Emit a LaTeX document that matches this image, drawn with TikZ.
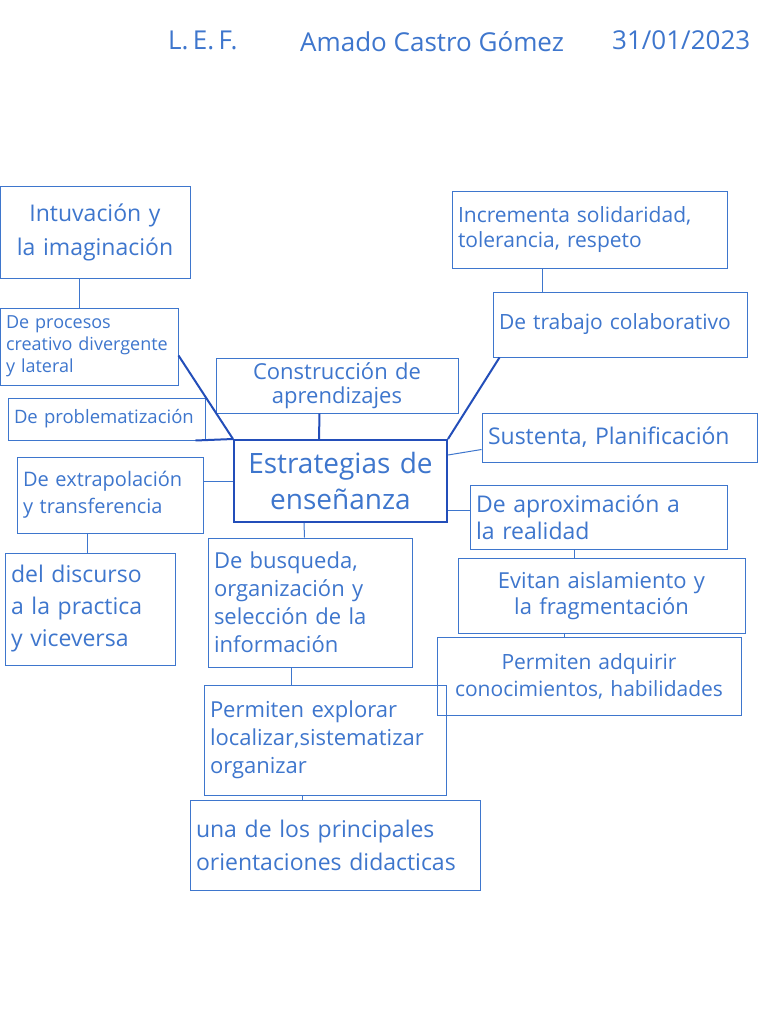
\documentclass[tikz,border=0pt]{standalone}
\usepackage{fontspec}
\setmainfont{Open Sans}
\definecolor{pen}{RGB}{62,118,205}
\definecolor{darkpen}{RGB}{35,78,185}
\tikzset{
  box/.style={draw=pen, line width=1pt, text=pen, rectangle, align=left,
    inner xsep=5pt, inner ysep=3pt, font=\fontsize{16}{20}\selectfont,
    execute at begin node={\hyphenpenalty=10000}},
  conn/.style={draw=pen, line width=1pt},
  thick conn/.style={draw=darkpen, line width=2pt},
  title/.style={text=pen, font=\fontsize{26}{30}\selectfont, inner sep=0pt}
}
\newcommand{\bx}[7][]{%
  \node[box, #1, minimum width={#4-#2}, minimum height={#5-#3}, text width={#4-#2-12}]
    (#6) at ({(#2+#4)/2},{(#3+#5)/2}) {#7};}
\begin{document}
\begin{tikzpicture}[x=1pt,y=-1pt]
\fill[white] (0,0) rectangle (768,1024);
\useasboundingbox (0,0) rectangle (768,1024);

% title
\node[title, anchor=west] (lef) at (168,40) {L.\,E.\,F.};
\node[title, anchor=west] (name) at (300,42) {Amado Castro Gómez};
\node[title, anchor=west] (date) at (612,40) {31/01/2023};

% left column
\bx[font=\fontsize{23}{34}\selectfont, align=center]{0}{187}{190}{278}{intu}{Intuvación y\\la imaginación}
\bx[font=\fontsize{18}{22}\selectfont, inner xsep=3pt]{0}{308}{178}{385}{proc}{De procesos\\creativo divergente\\y lateral}
\bx[font=\fontsize{18.5}{22}\selectfont]{8}{398}{205}{440}{prob}{De problematización}
\bx[font=\fontsize{20}{27}\selectfont]{17}{457}{203}{533}{extr}{De extrapolación\\y transferencia}
\bx[font=\fontsize{23}{32}\selectfont]{5}{553}{175}{665}{disc}{del discurso\\a la practica\\y viceversa}

% centre column
\bx[font=\fontsize{22}{24}\selectfont, align=center]{216}{358}{458}{413}{cons}{Construcción de\\aprendizajes}
\bx[draw=darkpen, line width=2pt, font=\fontsize{28}{36}\selectfont, align=center]{234}{440}{447}{522}{estr}{Estrategias de\\enseñanza}
\bx[font=\fontsize{22}{28}\selectfont]{208}{538}{412}{667}{busq}{De busqueda,\\organización y\\selección de la\\información}
\bx[font=\fontsize{22}{28}\selectfont]{204}{685}{446}{795}{expl}{Permiten explorar\\localizar,sistematizar\\organizar}
\bx[font=\fontsize{23}{33}\selectfont]{190}{800}{480}{890}{orie}{una de los principales\\orientaciones didacticas}

% right column
\bx[font=\fontsize{21}{25}\selectfont]{452}{192}{727}{268}{incr}{Incrementa solidaridad,\\tolerancia, respeto}
\bx[font=\fontsize{21}{26}\selectfont]{493}{292}{747}{357}{trab}{De trabajo colaborativo}
\bx[font=\fontsize{23}{26}\selectfont]{482}{413}{757}{462}{sust}{Sustenta, Planificación}
\bx[font=\fontsize{23}{27}\selectfont]{470}{485}{727}{549}{apro}{De aproximación a\\la realidad}
\bx[font=\fontsize{22}{26}\selectfont, align=center]{458}{558}{745}{633}{evit}{Evitan aislamiento y\\la fragmentación}
\bx[font=\fontsize{21}{27}\selectfont, align=center]{437}{637}{741}{715}{adqu}{Permiten adquirir\\conocimientos, habilidades}

% connectors
\draw[conn] ([xshift=80pt]intu.south west) -- ([xshift=80pt]proc.north west);
\draw[thick conn] ([yshift=-9pt]proc.east) -- (estr.north west);
\draw[thick conn] ([xshift=-10pt]prob.south east) -- (estr.north west);
\draw[conn] (estr.west) -- (estr.west -| extr.east);
\draw[conn] ([xshift=71pt]extr.south west) -- ([xshift=83pt]disc.north west);
\draw[thick conn] ([xshift=104pt]cons.south west) -- ([xshift=86pt]estr.north west);
\draw[thick conn] (estr.north east) -- ([xshift=7pt]trab.south west);
\draw[conn] ([yshift=26pt]estr.east) -- ([yshift=-12pt]sust.west);
\draw[conn] ([yshift=-29pt]estr.east) -- ([yshift=7pt]apro.west);
\draw[conn] ([xshift=71pt]estr.south west) -- ([xshift=97pt]busq.north west);
\draw[conn] ([xshift=91pt]incr.south west) -- ([xshift=50pt]trab.north west);
\draw[conn] ([xshift=105pt]apro.south west) -- ([xshift=117pt]evit.north west);
\draw[conn] ([xshift=107pt]evit.south west) -- ([xshift=128pt]adqu.north west);
\draw[conn] ([xshift=84pt]busq.south west) -- ([xshift=88pt]expl.north west);
\draw[conn] ([xshift=99pt]expl.south west) -- ([xshift=113pt]orie.north west);
\end{tikzpicture}
\end{document}
